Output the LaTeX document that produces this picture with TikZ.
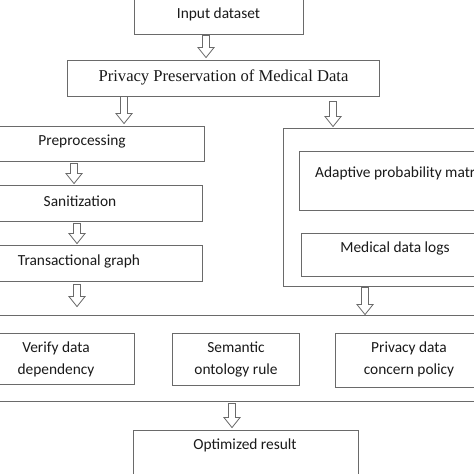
\documentclass[tikz,border=0pt]{standalone}
\usepackage{fontspec}
\setmainfont{Carlito}
\newfontfamily\tnr{Liberation Serif}
\usetikzlibrary{fit,calc}
\definecolor{boxline}{HTML}{6A6A6A}
\definecolor{txt}{HTML}{1A1A1A}
\tikzset{
  box/.style={draw=boxline, line width=0.9bp, inner sep=0pt, fill=none},
  lbl/.style={text=txt, font=\fontsize{15.4bp}{22bp}\selectfont, align=center, inner sep=0pt},
  arr/.style={draw=boxline, line width=0.8bp, fill=white, line join=miter},
}
\newcommand\blockarrow[2]{%
  \draw[arr] let \p1=(#1), \p2=(#2) in
    (\x1-3.5bp,\y1) -- (\x1-3.5bp,\y2+10bp) -- (\x1-8bp,\y2+10bp) -- (\x1,\y2)
    -- (\x1+8bp,\y2+10bp) -- (\x1+3.5bp,\y2+10bp) -- (\x1+3.5bp,\y1) -- cycle;}
\begin{document}
\begin{tikzpicture}[x=1bp,y=-1bp]
\useasboundingbox (0,0) rectangle (474,474);
\clip (0,0) rectangle (474,474);
\fill[white] (0,0) rectangle (474,474);
% boxes
\node[box, fit={(134,-6) (303,34)}] (inp) {};
\node[lbl] at (218.5,14.5) {Input dataset};
\node[box, fit={(67,60) (379,96)}] (priv) {};
\node[lbl, font=\tnr\fontsize{16.6bp}{18bp}\selectfont] at (223.5,77) {Privacy Preservation of Medical Data};
\node[box, fit={(-40,126) (204,161)}] (pre) {};
\node[lbl] at (82,142) {Preprocessing};
\node[box, fit={(-40,185) (202,221)}] (san) {};
\node[lbl] at (80,201.5) {Sanitization};
\node[box, fit={(-40,245) (202,281)}] (tg) {};
\node[lbl] at (79,261.5) {Transactional graph};
\node[box, fit={(283,128) (520,286)}] (rbig) {};
\node[box, fit={(299,151) (497,210)}] (apm) {};
\node[lbl, anchor=west] at (315,173.5) {Adaptive probability matrix};
\node[box, fit={(301,233) (500,276)}] (mdl) {};
\node[lbl] at (395,248.5) {Medical data logs};
\node[box, fit={(-10,315) (490,401)}] (bbig) {};
\node[box, fit={(-22,333) (134,384)}] (vdd) {};
\node[lbl] at (56,359.5) {Verify data\\dependency};
\node[box, fit={(172,333) (299,385)}] (sor) {};
\node[lbl] at (236,359.5) {Semantic\\ontology rule};
\node[box, fit={(335,333) (483,387)}] (pdc) {};
\node[lbl] at (409,359.5) {Privacy data\\concern policy};
\node[box, fit={(133,430) (358,500)}] (opt) {};
\node[lbl] at (245,445.5) {Optimized result};
% arrow end points
\coordinate (a1s) at ($(inp.south -| 206,0)+(0,1)$);
\coordinate (a1e) at ($(priv.north -| 206,0)+(0,-2)$);
\coordinate (a2s) at (priv.south -| 124,0);
\coordinate (a2e) at ($(pre.north -| 124,0)+(0,-2)$);
\coordinate (a3s) at ($(priv.south -| 333,0)+(0,5)$);
\coordinate (a3e) at ($(rbig.north -| 333,0)+(0,-1)$);
\coordinate (a4s) at ($(pre.south -| 74,0)+(0,2)$);
\coordinate (a4e) at ($(san.north -| 74,0)+(0,-1)$);
\coordinate (a5s) at ($(san.south -| 77,0)+(0,2)$);
\coordinate (a5e) at ($(tg.north -| 77,0)+(0,-1)$);
\coordinate (a6s) at ($(tg.south -| 77,0)+(0,3)$);
\coordinate (a6e) at ($(bbig.north -| 77,0)+(0,-8)$);
\coordinate (a7s) at ($(rbig.south -| 365,0)+(0,1)$);
\coordinate (a7e) at (bbig.north -| 365,0);
\coordinate (a8s) at ($(bbig.south -| 232,0)+(0,2)$);
\coordinate (a8e) at ($(opt.north -| 232,0)+(0,-2)$);
\blockarrow{a1s}{a1e}
\blockarrow{a2s}{a2e}
\blockarrow{a3s}{a3e}
\blockarrow{a4s}{a4e}
\blockarrow{a5s}{a5e}
\blockarrow{a6s}{a6e}
\blockarrow{a7s}{a7e}
\blockarrow{a8s}{a8e}
\end{tikzpicture}
\end{document}
